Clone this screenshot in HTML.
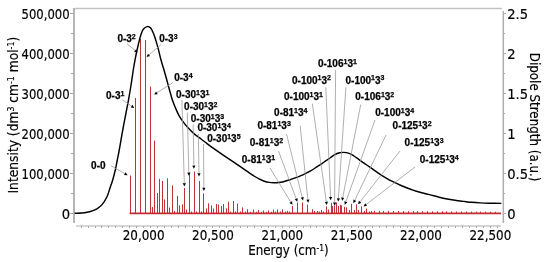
<!DOCTYPE html><html><head><meta charset="utf-8"><style>html,body{margin:0;padding:0;background:#fff;width:550px;height:262px;overflow:hidden}svg{display:block;filter:blur(0.3px)}.t{font-family:"DejaVu Sans","Liberation Sans",sans-serif;font-stretch:condensed;font-size:13px;fill:#000;stroke:#000;stroke-width:0.2px}.t2{font-family:"DejaVu Sans","Liberation Sans",sans-serif;font-stretch:condensed;font-size:13.4px;fill:#000;stroke:#000;stroke-width:0.15px}.l{font-family:"Liberation Sans",sans-serif;font-weight:bold;font-size:10px;letter-spacing:0px;fill:#000;stroke:#000;stroke-width:0.25px}</style></head><body>
<svg width="550" height="262" viewBox="0 0 550 262">
<g fill="none">
<path d="M74.5,8.4H502" stroke="#c2c2c2" stroke-width="1.5"/>
<path d="M74,8V223" stroke="#b6b6b6" stroke-width="2"/>
<path d="M503.3,11V223" stroke="#b0b0b0" stroke-width="1.5"/>
<path d="M76,226H501" stroke="#c8c8cc" stroke-width="1.5"/>
</g>
<g stroke="#a8a8a8" stroke-width="1" fill="none" shape-rendering="crispEdges">
<path d="M70,213.5H73"/>
<path d="M504,213.5H506"/>
<path d="M71,193.5H73"/>
<path d="M504,193.5H505"/>
<path d="M70,173.5H73"/>
<path d="M504,173.5H506"/>
<path d="M71,153.5H73"/>
<path d="M504,153.5H505"/>
<path d="M70,133.5H73"/>
<path d="M504,133.5H506"/>
<path d="M71,113.5H73"/>
<path d="M504,113.5H505"/>
<path d="M70,93.5H73"/>
<path d="M504,93.5H506"/>
<path d="M71,73.5H73"/>
<path d="M504,73.5H505"/>
<path d="M70,53.5H73"/>
<path d="M504,53.5H506"/>
<path d="M71,33.5H73"/>
<path d="M504,33.5H505"/>
<path d="M70,13.5H73"/>
<path d="M504,13.5H506"/>
<path d="M81.5,226V227.5"/>
<path d="M88.5,226V227.5"/>
<path d="M95.5,226V227.5"/>
<path d="M101.5,226V227.5"/>
<path d="M108.5,226V227.5"/>
<path d="M115.5,226V227.5"/>
<path d="M122.5,226V227.5"/>
<path d="M129.5,226V227.5"/>
<path d="M136.5,226V227.5"/>
<path d="M143.5,226V228.2"/>
<path d="M150.5,226V227.5"/>
<path d="M157.5,226V227.5"/>
<path d="M164.5,226V227.5"/>
<path d="M171.5,226V227.5"/>
<path d="M178.5,226V227.5"/>
<path d="M185.5,226V227.5"/>
<path d="M192.5,226V227.5"/>
<path d="M199.5,226V227.5"/>
<path d="M206.5,226V227.5"/>
<path d="M212.5,226V228.2"/>
<path d="M219.5,226V227.5"/>
<path d="M226.5,226V227.5"/>
<path d="M233.5,226V227.5"/>
<path d="M240.5,226V227.5"/>
<path d="M247.5,226V227.5"/>
<path d="M254.5,226V227.5"/>
<path d="M261.5,226V227.5"/>
<path d="M268.5,226V227.5"/>
<path d="M275.5,226V227.5"/>
<path d="M282.5,226V228.2"/>
<path d="M289.5,226V227.5"/>
<path d="M296.5,226V227.5"/>
<path d="M303.5,226V227.5"/>
<path d="M310.5,226V227.5"/>
<path d="M316.5,226V227.5"/>
<path d="M323.5,226V227.5"/>
<path d="M330.5,226V227.5"/>
<path d="M337.5,226V227.5"/>
<path d="M344.5,226V227.5"/>
<path d="M351.5,226V228.2"/>
<path d="M358.5,226V227.5"/>
<path d="M365.5,226V227.5"/>
<path d="M372.5,226V227.5"/>
<path d="M379.5,226V227.5"/>
<path d="M386.5,226V227.5"/>
<path d="M393.5,226V227.5"/>
<path d="M400.5,226V227.5"/>
<path d="M407.5,226V227.5"/>
<path d="M414.5,226V227.5"/>
<path d="M421.5,226V228.2"/>
<path d="M427.5,226V227.5"/>
<path d="M434.5,226V227.5"/>
<path d="M441.5,226V227.5"/>
<path d="M448.5,226V227.5"/>
<path d="M455.5,226V227.5"/>
<path d="M462.5,226V227.5"/>
<path d="M469.5,226V227.5"/>
<path d="M476.5,226V227.5"/>
<path d="M483.5,226V227.5"/>
<path d="M490.5,226V228.2"/>
<path d="M497.5,226V227.5"/>
</g>
<text class="t" x="70.2" y="218.9" text-anchor="end" style="font-size:14.6px">0</text>
<text class="t" x="21.60" y="178.9" style="font-size:14.6px" textLength="48.0" lengthAdjust="spacingAndGlyphs">100,000</text>
<text class="t" x="21.60" y="138.9" style="font-size:14.6px" textLength="48.0" lengthAdjust="spacingAndGlyphs">200,000</text>
<text class="t" x="21.60" y="98.9" style="font-size:14.6px" textLength="48.0" lengthAdjust="spacingAndGlyphs">300,000</text>
<text class="t" x="21.60" y="58.9" style="font-size:14.6px" textLength="48.0" lengthAdjust="spacingAndGlyphs">400,000</text>
<text class="t" x="21.60" y="18.9" style="font-size:14.6px" textLength="48.0" lengthAdjust="spacingAndGlyphs">500,000</text>
<text class="t" x="507.2" y="218.9" style="font-size:14.6px">0</text>
<text class="t" x="507.2" y="178.9" style="font-size:14.6px">0.5</text>
<text class="t" x="507.2" y="138.9" style="font-size:14.6px">1</text>
<text class="t" x="507.2" y="98.9" style="font-size:14.6px">1.5</text>
<text class="t" x="507.2" y="58.9" style="font-size:14.6px">2</text>
<text class="t" x="507.2" y="18.9" style="font-size:14.6px">2.5</text>
<text class="t" x="122.70" y="239.7" style="font-size:14.6px" textLength="41.8" lengthAdjust="spacingAndGlyphs">20,000</text>
<text class="t" x="192.05" y="239.7" style="font-size:14.6px" textLength="41.8" lengthAdjust="spacingAndGlyphs">20,500</text>
<text class="t" x="261.40" y="239.7" style="font-size:14.6px" textLength="41.8" lengthAdjust="spacingAndGlyphs">21,000</text>
<text class="t" x="330.75" y="239.7" style="font-size:14.6px" textLength="41.8" lengthAdjust="spacingAndGlyphs">21,500</text>
<text class="t" x="400.10" y="239.7" style="font-size:14.6px" textLength="41.8" lengthAdjust="spacingAndGlyphs">22,000</text>
<text class="t" x="469.45" y="239.7" style="font-size:14.6px" textLength="41.8" lengthAdjust="spacingAndGlyphs">22,500</text>
<text class="t2" x="248.2" y="254.5" textLength="80.5" lengthAdjust="spacingAndGlyphs">Energy (cm<tspan dy="-4" font-size="8.5">-1</tspan><tspan dy="4">)</tspan></text>
<text class="t2" transform="translate(18.1,193.5) rotate(-90)" textLength="156.7" lengthAdjust="spacingAndGlyphs">Intensity (dm<tspan dy="-4.5" font-size="8.5">3</tspan><tspan dy="4.5"> cm</tspan><tspan dy="-4.5" font-size="8.5">-1</tspan><tspan dy="4.5"> mol</tspan><tspan dy="-4.5" font-size="8.5">-1</tspan><tspan dy="4.5">)</tspan></text>
<text class="t2" transform="translate(529.6,52.8) rotate(90)" textLength="128.7" lengthAdjust="spacingAndGlyphs">Dipole Strength (a.u.)</text>
<path d="M130.5,213.0V175.5M135.5,213.0V98.0M140.5,213.0V39.0M145.5,213.0V40.0M150.5,213.0V86.6M152.5,213.0V207.0M154.5,213.0V140.6M157.5,213.0V193.0M159.5,213.0V178.8M162.5,213.0V181.0M164.5,213.0V199.4M167.5,213.0V178.4M169.5,213.0V207.5M172.5,213.0V185.4M174.5,213.0V211.0M177.5,213.0V195.8M179.5,213.0V205.3M182.5,213.0V204.4M184.5,213.0V188.0M186.5,213.0V209.6M189.5,213.0V172.5M191.5,213.0V211.5M194.5,213.0V171.5M196.5,213.0V211.5M199.5,213.0V181.0M201.5,213.0V211.5M203.5,213.0V193.4M206.5,213.0V208.4M208.5,213.0V203.3M211.5,213.0V205.5M213.5,213.0V208.5M216.5,213.0V204.0M218.5,213.0V204.6M221.5,213.0V206.0M223.5,213.0V204.0M226.5,213.0V208.3M228.5,213.0V201.7M230.5,213.0V211.5M233.5,213.0V201.0M235.5,213.0V211.5M237.5,213.0V203.5M240.5,213.0V211.5M242.5,213.0V207.4M245.5,213.0V211.7M247.5,213.0V209.2M250.5,213.0V211.8M253.5,213.0V209.5M256.5,213.0V211.8M258.5,213.0V210.0M261.5,213.0V211.8M263.5,213.0V210.5M266.5,213.0V211.8M268.5,213.0V210.5M271.5,213.0V211.8M273.5,213.0V209.5M275.5,213.0V211.6M277.5,213.0V209.5M280.5,213.0V211.6M282.5,213.0V209.5M285.5,213.0V211.6M287.5,213.0V210.8M289.5,213.0V211.5M292.5,213.0V206.0M297.5,213.0V202.5M302.5,213.0V202.4M307.5,213.0V204.6M312.5,213.0V209.2M314.5,213.0V211.0M317.5,213.0V211.0M319.5,213.0V211.5M321.5,213.0V210.0M323.5,213.0V211.5M326.5,213.0V206.4M328.5,213.0V209.5M331.5,213.0V202.9M332.5,213.0V206.0M334.5,213.0V205.5M336.5,213.0V202.5M338.5,213.0V206.0M340.5,213.0V204.7M341.5,213.0V205.5M344.5,213.0V206.9M346.5,213.0V207.3M349.5,213.0V210.0M351.5,213.0V203.8M354.5,213.0V210.0M356.5,213.0V204.2M358.5,213.0V210.0M361.5,213.0V206.4M364.5,213.0V211.0M366.5,213.0V208.6M369.5,213.0V211.5M371.5,213.0V211.0M374.5,213.0V210.8M379.5,213.0V210.8M383.5,213.0V210.9M388.5,213.0V210.9M393.5,213.0V211.0M398.5,213.0V211.0M403.5,213.0V211.0M408.5,213.0V211.1M413.5,213.0V211.1M417.5,213.0V211.1M422.5,213.0V211.2M427.5,213.0V211.2M432.5,213.0V211.3M437.5,213.0V211.3M442.5,213.0V211.3M446.5,213.0V211.4M451.5,213.0V211.4M456.5,213.0V211.5M461.5,213.0V211.5M466.5,213.0V211.5M471.5,213.0V211.6M476.5,213.0V211.6M480.5,213.0V211.6M485.5,213.0V211.7M490.5,213.0V211.7M495.5,213.0V211.8" stroke="#c0323a" stroke-width="1" fill="none"/>
<path d="M129.6,213.3H501" stroke="#c42a32" stroke-width="1.7" fill="none"/>
<path d="M74.6,213.3C75.82,213.25 79.85,213.17 81.9,213C83.95,212.83 85.23,212.63 86.9,212.3C88.57,211.97 90.25,211.57 91.9,211C93.55,210.43 95.15,209.92 96.8,208.9C98.45,207.88 100.12,206.88 101.8,204.9C103.48,202.92 105.53,199.82 106.9,197C108.27,194.18 109.03,190.83 110,188C110.97,185.17 111.82,183.00 112.7,180C113.58,177.00 114.53,173.33 115.3,170C116.07,166.67 116.75,162.75 117.3,160C117.85,157.25 117.98,156.83 118.6,153.5C119.22,150.17 120.22,144.42 121,140C121.78,135.58 122.47,131.50 123.3,127C124.13,122.50 125.13,117.50 126,113C126.87,108.50 127.63,104.83 128.5,100C129.37,95.17 130.35,89.33 131.2,84C132.05,78.67 132.87,72.50 133.6,68C134.33,63.50 134.97,60.25 135.6,57C136.23,53.75 136.78,51.23 137.4,48.5C138.02,45.77 138.70,42.92 139.3,40.6C139.90,38.28 140.33,36.50 141,34.6C141.67,32.70 142.28,30.53 143.3,29.2C144.32,27.87 145.87,26.80 147.1,26.6C148.33,26.40 149.62,26.82 150.7,28C151.78,29.18 152.73,31.60 153.6,33.7C154.47,35.80 155.13,38.12 155.9,40.6C156.67,43.08 157.35,45.37 158.2,48.6C159.05,51.83 160.03,56.43 161,60C161.97,63.57 163.03,66.67 164,70C164.97,73.33 165.88,76.67 166.8,80C167.72,83.33 168.57,86.67 169.5,90C170.43,93.33 171.40,97.00 172.4,100C173.40,103.00 174.40,105.40 175.5,108C176.60,110.60 177.75,113.33 179,115.6C180.25,117.87 181.50,119.57 183,121.6C184.50,123.63 186.17,125.80 188,127.8C189.83,129.80 192.00,131.87 194,133.6C196.00,135.33 198.17,136.80 200,138.2C201.83,139.60 202.80,140.33 205,142.0C207.20,143.67 210.47,146.22 213.2,148.2C215.93,150.18 218.67,152.05 221.4,153.9C224.13,155.75 226.87,157.47 229.6,159.3C232.33,161.13 235.07,163.02 237.8,164.9C240.53,166.78 243.97,169.20 246,170.6C248.03,172.00 248.53,172.32 250,173.3C251.47,174.28 253.22,175.52 254.8,176.5C256.38,177.48 257.92,178.42 259.5,179.2C261.08,179.98 262.70,180.67 264.3,181.2C265.90,181.73 267.50,182.15 269.1,182.4C270.70,182.65 272.32,182.68 273.9,182.7C275.48,182.72 277.02,182.67 278.6,182.5C280.18,182.33 281.50,182.15 283.4,181.7C285.30,181.25 287.78,180.52 290,179.8C292.22,179.08 294.47,178.25 296.7,177.4C298.93,176.55 301.17,175.73 303.4,174.7C305.63,173.67 307.87,172.50 310.1,171.2C312.33,169.90 314.58,168.35 316.8,166.9C319.02,165.45 321.20,163.98 323.4,162.5C325.60,161.02 328.10,159.30 330,158C331.90,156.70 333.20,155.57 334.8,154.7C336.40,153.83 338.17,153.18 339.6,152.8C341.03,152.42 341.82,152.30 343.4,152.4C344.98,152.50 347.35,152.80 349.1,153.4C350.85,154.00 352.30,155.02 353.9,156C355.50,156.98 357.02,158.12 358.7,159.3C360.38,160.48 362.18,161.83 364,163.1C365.82,164.37 367.08,165.15 369.6,166.9C372.12,168.65 376.53,171.87 379.1,173.6C381.67,175.33 382.87,176.03 385,177.3C387.13,178.57 389.03,179.75 391.9,181.2C394.77,182.65 398.57,184.47 402.2,186C405.83,187.53 410.73,189.35 413.7,190.4C416.67,191.45 417.37,191.60 420,192.3C422.63,193.00 426.32,193.78 429.5,194.6C432.68,195.42 435.92,196.42 439.1,197.2C442.28,197.98 445.42,198.72 448.6,199.3C451.78,199.88 455.63,200.35 458.2,200.7C460.77,201.05 461.78,201.13 464,201.4C466.22,201.67 468.80,202.05 471.5,202.3C474.20,202.55 477.30,202.75 480.2,202.9C483.10,203.05 485.37,203.12 488.9,203.2C492.43,203.28 499.32,203.37 501.4,203.4" stroke="#000" stroke-width="1.45" fill="none" stroke-linejoin="round"/>
<text class="l" x="117.4" y="42"><tspan y="42">0-3</tspan><tspan style="font-size:7px" y="38.8">2</tspan></text>
<path d="M127.2,43.8L135.16,50.53" stroke="#9a9a9a" stroke-width="0.8" fill="none"/>
<path d="M137.6,52.6L134.12,51.75L136.19,49.31Z" fill="#000"/>
<text class="l" x="159.2" y="42"><tspan y="42">0-3</tspan><tspan style="font-size:7px" y="38.8">3</tspan></text>
<path d="M161.3,44.3L149.02,54.91" stroke="#9a9a9a" stroke-width="0.8" fill="none"/>
<path d="M146.6,57L147.98,53.70L150.07,56.12Z" fill="#000"/>
<text class="l" x="174.2" y="81"><tspan y="81">0-3</tspan><tspan style="font-size:7px" y="77.8">4</tspan></text>
<path d="M173,82.5L156.90,92.78" stroke="#9a9a9a" stroke-width="0.8" fill="none"/>
<path d="M154.2,94.5L156.04,91.43L157.76,94.13Z" fill="#000"/>
<text class="l" x="106" y="99"><tspan y="99">0-3</tspan><tspan style="font-size:7px" y="95.8">1</tspan></text>
<path d="M122.4,99.8L131.57,106.17" stroke="#9a9a9a" stroke-width="0.8" fill="none"/>
<path d="M134.2,108L130.66,107.49L132.49,104.86Z" fill="#000"/>
<text class="l" x="91.1" y="168.7"><tspan y="168.7">0-0</tspan></text>
<path d="M111.2,165.8L124.83,173.70" stroke="#9a9a9a" stroke-width="0.8" fill="none"/>
<path d="M127.6,175.3L124.03,175.08L125.63,172.31Z" fill="#000"/>
<text class="l" x="176" y="98.2"><tspan y="98.2">0-30</tspan><tspan style="font-size:7px" y="95.0">1</tspan><tspan y="98.2">3</tspan><tspan style="font-size:7px" y="95.0">1</tspan></text>
<path d="M181.9,100L184.31,183.30" stroke="#9a9a9a" stroke-width="0.8" fill="none"/>
<path d="M184.4,186.5L182.71,183.35L185.91,183.26Z" fill="#000"/>
<text class="l" x="184.1" y="110"><tspan y="110">0-30</tspan><tspan style="font-size:7px" y="106.8">1</tspan><tspan y="110">3</tspan><tspan style="font-size:7px" y="106.8">2</tspan></text>
<path d="M187.3,112.4L188.82,172.60" stroke="#9a9a9a" stroke-width="0.8" fill="none"/>
<path d="M188.9,175.8L187.22,172.64L190.42,172.56Z" fill="#000"/>
<text class="l" x="190.8" y="122.3"><tspan y="122.3">0-30</tspan><tspan style="font-size:7px" y="119.1">1</tspan><tspan y="122.3">3</tspan><tspan style="font-size:7px" y="119.1">3</tspan></text>
<path d="M193.2,124.5L193.85,165.60" stroke="#9a9a9a" stroke-width="0.8" fill="none"/>
<path d="M193.9,168.8L192.25,165.63L195.45,165.58Z" fill="#000"/>
<text class="l" x="197.4" y="131.4"><tspan y="131.4">0-30</tspan><tspan style="font-size:7px" y="128.20000000000002">1</tspan><tspan y="131.4">3</tspan><tspan style="font-size:7px" y="128.20000000000002">4</tspan></text>
<path d="M198.4,134L198.95,173.30" stroke="#9a9a9a" stroke-width="0.8" fill="none"/>
<path d="M199,176.5L197.35,173.32L200.55,173.28Z" fill="#000"/>
<text class="l" x="207.2" y="142"><tspan y="142">0-30</tspan><tspan style="font-size:7px" y="138.8">1</tspan><tspan y="142">3</tspan><tspan style="font-size:7px" y="138.8">5</tspan></text>
<path d="M203.5,144L203.87,187.80" stroke="#9a9a9a" stroke-width="0.8" fill="none"/>
<path d="M203.9,191L202.27,187.81L205.47,187.79Z" fill="#000"/>
<text class="l" x="241.8" y="163"><tspan y="163">0-81</tspan><tspan style="font-size:7px" y="159.8">1</tspan><tspan y="163">3</tspan><tspan style="font-size:7px" y="159.8">1</tspan></text>
<path d="M270,168L290.74,202.07" stroke="#9a9a9a" stroke-width="0.8" fill="none"/>
<path d="M292.4,204.8L289.37,202.90L292.10,201.23Z" fill="#000"/>
<text class="l" x="249.8" y="146"><tspan y="146">0-81</tspan><tspan style="font-size:7px" y="142.8">1</tspan><tspan y="146">3</tspan><tspan style="font-size:7px" y="142.8">2</tspan></text>
<path d="M278.5,151L296.19,198.80" stroke="#9a9a9a" stroke-width="0.8" fill="none"/>
<path d="M297.3,201.8L294.69,199.35L297.69,198.24Z" fill="#000"/>
<text class="l" x="257.4" y="129.3"><tspan y="129.3">0-81</tspan><tspan style="font-size:7px" y="126.10000000000001">1</tspan><tspan y="129.3">3</tspan><tspan style="font-size:7px" y="126.10000000000001">3</tspan></text>
<path d="M286.5,134L302.23,197.39" stroke="#9a9a9a" stroke-width="0.8" fill="none"/>
<path d="M303,200.5L300.68,197.78L303.78,197.01Z" fill="#000"/>
<text class="l" x="274.1" y="116.1"><tspan y="116.1">0-81</tspan><tspan style="font-size:7px" y="112.89999999999999">1</tspan><tspan y="116.1">3</tspan><tspan style="font-size:7px" y="112.89999999999999">4</tspan></text>
<path d="M300.2,126L307.87,199.62" stroke="#9a9a9a" stroke-width="0.8" fill="none"/>
<path d="M308.2,202.8L306.28,199.78L309.46,199.45Z" fill="#000"/>
<text class="l" x="284" y="100.4"><tspan y="100.4">0-100</tspan><tspan style="font-size:7px" y="97.2">1</tspan><tspan y="100.4">3</tspan><tspan style="font-size:7px" y="97.2">1</tspan></text>
<path d="M312.3,103.6L326.35,201.83" stroke="#9a9a9a" stroke-width="0.8" fill="none"/>
<path d="M326.8,205L324.76,202.06L327.93,201.61Z" fill="#000"/>
<text class="l" x="292" y="83.6"><tspan y="83.6">0-100</tspan><tspan style="font-size:7px" y="80.39999999999999">1</tspan><tspan y="83.6">3</tspan><tspan style="font-size:7px" y="80.39999999999999">2</tspan></text>
<path d="M325.8,87.3L330.56,197.00" stroke="#9a9a9a" stroke-width="0.8" fill="none"/>
<path d="M330.7,200.2L328.96,197.07L332.16,196.93Z" fill="#000"/>
<text class="l" x="317.9" y="67.4"><tspan y="67.4">0-106</tspan><tspan style="font-size:7px" y="64.2">1</tspan><tspan y="67.4">3</tspan><tspan style="font-size:7px" y="64.2">1</tspan></text>
<path d="M335.6,69.7L334.62,202.60" stroke="#9a9a9a" stroke-width="0.8" fill="none"/>
<path d="M334.6,205.8L333.02,202.59L336.22,202.61Z" fill="#000"/>
<text class="l" x="345.5" y="83.6"><tspan y="83.6">0-100</tspan><tspan style="font-size:7px" y="80.39999999999999">1</tspan><tspan y="83.6">3</tspan><tspan style="font-size:7px" y="80.39999999999999">3</tspan></text>
<path d="M345.9,87.3L338.42,198.31" stroke="#9a9a9a" stroke-width="0.8" fill="none"/>
<path d="M338.2,201.5L336.82,198.20L340.01,198.41Z" fill="#000"/>
<text class="l" x="355.3" y="100.4"><tspan y="100.4">0-106</tspan><tspan style="font-size:7px" y="97.2">1</tspan><tspan y="100.4">3</tspan><tspan style="font-size:7px" y="97.2">2</tspan></text>
<path d="M360.7,104.7L342.71,197.66" stroke="#9a9a9a" stroke-width="0.8" fill="none"/>
<path d="M342.1,200.8L341.14,197.35L344.28,197.96Z" fill="#000"/>
<text class="l" x="375.2" y="115.7"><tspan y="115.7">0-100</tspan><tspan style="font-size:7px" y="112.5">1</tspan><tspan y="115.7">3</tspan><tspan style="font-size:7px" y="112.5">4</tspan></text>
<path d="M375,120L345.87,201.79" stroke="#9a9a9a" stroke-width="0.8" fill="none"/>
<path d="M344.8,204.8L344.37,201.25L347.38,202.32Z" fill="#000"/>
<text class="l" x="392.6" y="128.7"><tspan y="128.7">0-125</tspan><tspan style="font-size:7px" y="125.49999999999999">1</tspan><tspan y="128.7">3</tspan><tspan style="font-size:7px" y="125.49999999999999">2</tspan></text>
<path d="M386,135L354.78,200.31" stroke="#9a9a9a" stroke-width="0.8" fill="none"/>
<path d="M353.4,203.2L353.34,199.62L356.22,201.00Z" fill="#000"/>
<text class="l" x="404.6" y="146"><tspan y="146">0-125</tspan><tspan style="font-size:7px" y="142.8">1</tspan><tspan y="146">3</tspan><tspan style="font-size:7px" y="142.8">3</tspan></text>
<path d="M400,151L360.08,201.78" stroke="#9a9a9a" stroke-width="0.8" fill="none"/>
<path d="M358.1,204.3L358.82,200.80L361.34,202.77Z" fill="#000"/>
<text class="l" x="419.8" y="163.2"><tspan y="163.2">0-125</tspan><tspan style="font-size:7px" y="160.0">1</tspan><tspan y="163.2">3</tspan><tspan style="font-size:7px" y="160.0">4</tspan></text>
<path d="M415,167L366.14,204.55" stroke="#9a9a9a" stroke-width="0.8" fill="none"/>
<path d="M363.6,206.5L365.16,203.28L367.11,205.82Z" fill="#000"/>
</svg></body></html>
